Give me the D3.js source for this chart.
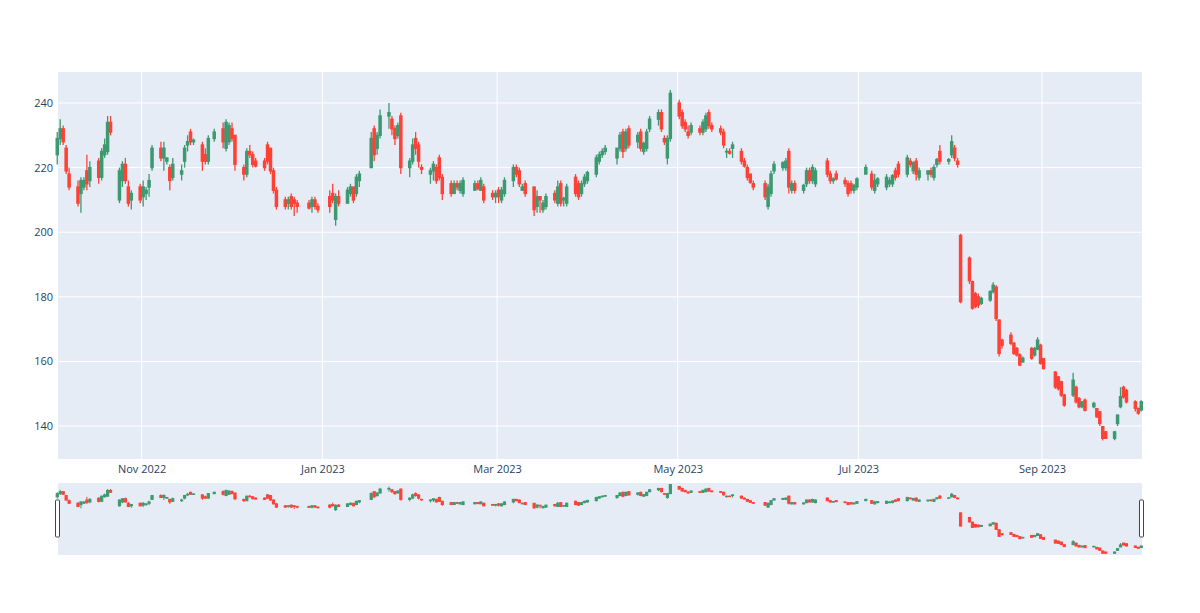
<!DOCTYPE html>
<html>
<head>
<meta charset="utf-8">
<script src="https://cdn.jsdelivr.net/npm/d3@7"></script>
<style>
  body { margin: 0; background: #fff; }
  text { font-family: "Open Sans", "DejaVu Sans", sans-serif; }
</style>
</head>
<body>
<svg id="chart" width="1200" height="613"></svg>
<script>
// rows are [open, high, low, close], one per trading day
var oct22 = [[224,231,221,229],[229,235,227,232],[232,233,227,228],[226,227,218,219],[218,220,213,214],
  [214,216,208,209],[212,217,206,216],[214,217,213,216],[219,224,213,215],[216,222,214,220],
  [222,223,215,217],[217,226,216,225],[224,229,223,227],[225,236,224,234],[234,236,230,231],
  [210,220,209,219],[216,222,214,221],[221,223,215,216],[214,216,208,209],[210,213,207,212]];
var nov22 = [[214,215,209,210],[211,216,208,214],[212,214,210,213],[214,218,211,216],[220,227,219,226],
  [226,228,222,223],[223,228,219,226],[222,223,221,223],[220,221,213,216],[217,223,216,221],
  [218,221,216,219],[222,227,220,226],[227,230,225,228],[231,232,227,228],[228,229,227,228.5],
  [227,228,219,222],[224,226,221,222],[222,230,221,229],[229,232,228,231],[232,234,226,228],[226,235,225,234]];
var dec22 = [[228,234,227,233],[232,234,228,229],[230,230,219,221],[220,221,216,218],[218,226,217,225],
  [225,227,223,224],[224,225,220,221],[222,223,220,220.5],[222,223,219,220],[227,228,221,222],
  [226,226,218,219],[219,220,212,213],[213,214,207,208],[210,211,207,208],[209,211,207,210],
  [211,212,207,208],[210,211,205,209],[209,210,206,208],[209,210,207,207.5],[208,211,206,210],
  [210,211,207,208],[208,209,206,207]];
var jan23 = [[211,213,206,208],[212,215,209,210],[204,212,202,211],[211,213,208,209],[209,214,209,213],
  [212,215,211,214],[214,214,209,210],[212,218,211,217],[216,219,214,218],[220,231,220,229],
  [232,233,222,224],[226,231,224,230],[230,238,229,236],[236,240,232,237],[235,236,230,232],
  [232,233,227,229],[230,234,229,233],[236,237,218,220],[220,223,217,222],[222,229,221,227]];
var feb23 = [[229,231,224,226],[227,228,220,222],[220,221,218,219.5],[218,220,215,219],[219,222,216,221],
  [220,221,215,216],[223,224,216,217],[217,218,210,212],[215,216,211,212],[212,216,212,215],
  [215,216,213,214],[213,216,212,215],[212,217,211,216],[213,216,213,215],[215,216,213,213.5],
  [213,217,213,216],[214,215,209,210],[212,213,210,211],[211,213,209,212]];
var mar23 = [[213,214,209,211],[210,214,209,213],[212,217,211,216],[216,221,214,220],[220,221,217,218],
  [219,220,214,215],[213,215,213,214],[215,216,211,212],[214,214,205,207],[208,213,206,211],
  [211,211,206,210],[207,210,206,209],[208,212,207,211],[212,213,209,210],[209,216,208,214],
  [215,216,208,209],[210,211,208,210.5],[209,215,208,214],[217,218,211,212],[215,216,210,211],
  [212,216,211,215],[215,218,214,217],[216,219,215,218.5]];
var apr23 = [[218,224,217,223],[222,225,221,224],[224,226,223,225],[225,227,224,226],[223,226,221,226],
  [226,231,225,230],[231,232,223,225],[226,232,225,231],[232,233,226,227],[228,231,226,230],
  [231,232,225,226],[225,228,224,227.5],[226,232,225,231],[232,236,231,235],[235,238,233,237],
  [237,238,231,232],[229,230,227,228],[223,230,221,229],[229,244,228,243]];
var may23 = [[240,241,235,236],[237,238,232,233],[234,235,231,232],[231,233,229,230],[231,234,230,233],
  [232,233,230,231],[231,235,230,234],[232,237,231,236],[237,238,232,233],[233,234,231,232],
  [232,233,230,231],[231,232,226,227],[225,226,223,225],[225,226,224,224.5],[226,228,223,227],
  [225,226,221,222],[222,223,220,220.5],[220,221,216,217],[218,218,215,215.5],[215,216,213,214],
  [215,216,210,211],[208,215,207,214]];
var jun23 = [[212,219,211,218],[219,222,218,221],[220,222,219,221.5],[220,223,219,222],[225,226,212,214],
  [213,216,212,215],[215,216,212,213],[213,215,212,214.5],[215,220,214,219],[219,220,215,216],
  [216,221,215,220],[215,220,214,219],[222,223,217,218],[218,219,215,216],[216,217,215,216.5],
  [218,219,216,216.5],[216,217,214,215],[215,216,211,212],[215,216,212,213],[213,215,212,214.5],
  [214,217,213,216.5]];
var jul23 = [[218,221,218,220],[218,219,213,214],[213,218,212,216],[215,217,214,216.5],[214,218,213,217],
  [215,217,214,216],[215,218,214,217.5],[219,220,216,217],[221,222,217,218],[218,224,217,223],
  [222,223,220,221],[219,222,218,221.5],[222,223,216,218],[217,220,216,219],[218,219,216,219],
  [219,220,217,218],[217,221,216,220],[221,223,220,222.5],[225,227,221,222],[222,223,221,222.5]];
var aug23 = [[224,230,223,228],[226,227,222,223],[222,223,220,221],[199,199.5,178,178.5],[192,192.5,184,185],
  [184.7,185,176,176.5],[181,181.5,176.5,177],[180,181,176.5,177.5],[178,180,177.5,179.5],[179,182,178.5,181.6],
  [181.6,184.5,181,183.6],[183,183.6,172.5,173.3],[172.8,173,161.5,162.5],[166.6,167,164,165],[168.1,169,165,165.6],
  [165.6,166,162,162.5],[164,164.5,161.5,162],[162,162.5,158.5,158.9],[159.9,161.5,159.5,161],[164,164.5,160.5,161],
  [162,164.5,161.5,164],[163.8,167.5,163.5,166.6],[165,165.5,159,159.4]];
var sep23 = [[160.9,161,157.5,157.8],[156.7,157,151.5,152.1],[155.2,155.5,151,151.6],[153.7,154,149,149.6],
  [149.6,150,146,146.5],[149.6,156.5,149,154.2],[152,152.5,147,147.5],[148.5,149,145.5,146],
  [146,147.5,145.5,147.5],[148,148.5,144.5,144.9],[146,147.5,145.5,147],[145.4,145.5,142.5,142.9],
  [144.4,144.5,140,140.8],[139.8,140,135.5,136.2],[138.2,138.5,136,136.2],[136.2,138.5,135.6,138.2],
  [140.8,143.5,140,143.4],[146,152,145.5,149.1],[152,152.5,148.5,149],[151,151.5,147,147.5]];
var oct23 = [[147.5,148,144.5,145.5],[145.5,145.5,143.5,144],[145,148,144.5,147.5]];

var yTicks = [140, 160, 180, 200, 220, 240];
var xTicks = ["2022-11-01", "2023-01-01", "2023-03-01", "2023-05-01", "2023-07-01", "2023-09-01"];
var xTickLabels = ["Nov 2022", "Jan 2023", "Mar 2023", "May 2023", "Jul 2023", "Sep 2023"];
var holidays = ["2022-11-24", "2022-12-26", "2023-01-02", "2023-01-16", "2023-02-20",
  "2023-04-07", "2023-05-29", "2023-06-19", "2023-07-04", "2023-09-04"];

var rows = [].concat(oct22, nov22, dec22, jan23, feb23, mar23, apr23, may23, jun23, jul23, aug23, sep23, oct23);

// trading days, aligned from the last day backwards
var fmt = d3.timeFormat("%Y-%m-%d");
var days = d3.timeDay.range(new Date(2022, 8, 1), new Date(2023, 9, 5))
  .filter(function(d) { return d.getDay() != 0 && d.getDay() != 6 && holidays.indexOf(fmt(d)) < 0; });
days = days.slice(days.length - rows.length);
var data = rows.map(function(r, i) {
  return { date: d3.timeHour.offset(days[i], 12), o: r[0], h: r[1], l: r[2], c: r[3] };
});

var svg = d3.select("#chart");
var left = 58, right = 1142;
var UP = "#3D9970", DOWN = "#FF4136";

var x = d3.scaleTime()
  .domain([new Date(2022, 9, 3, 18), new Date(2023, 9, 4, 18)])
  .range([left, right]);
var y = d3.scaleLinear().domain([129.8, 249.6]).range([459, 72]);
var ys = d3.scaleLinear().domain([133.5, 245.5]).range([555, 483]);

svg.append("rect").attr("x", left).attr("y", 72).attr("width", right - left).attr("height", 387)
  .attr("fill", "#E5ECF6");

var grid = svg.append("g");
grid.selectAll("line.gy").data(yTicks).enter().append("line")
  .attr("x1", left).attr("x2", right).attr("y1", function(d) { return y(d); }).attr("y2", function(d) { return y(d); })
  .attr("stroke", "#fff").attr("stroke-width", 1);
grid.selectAll("line.gx").data(xTicks).enter().append("line")
  .attr("y1", 72).attr("y2", 459)
  .attr("x1", function(d) { return x(d3.timeParse("%Y-%m-%d")(d)); })
  .attr("x2", function(d) { return x(d3.timeParse("%Y-%m-%d")(d)); })
  .attr("stroke", "#fff").attr("stroke-width", 1);

svg.append("g").attr("transform", "translate(" + (left - 5) + ",0)")
  .call(d3.axisLeft(y).tickValues(yTicks).tickSize(0).tickPadding(0))
  .call(function(g) { g.select(".domain").remove(); })
  .selectAll("text").attr("fill", "#2a3f5f").style("font-size", "11px");

svg.append("g").attr("transform", "translate(0,462)")
  .call(d3.axisBottom(x).tickValues(xTicks.map(d3.timeParse("%Y-%m-%d")))
    .tickFormat(function(d, i) { return xTickLabels[i]; }).tickSize(0).tickPadding(3))
  .call(function(g) { g.select(".domain").remove(); })
  .selectAll("text").attr("fill", "#2a3f5f").style("font-size", "11px");

var drawCandles = function(parent, yy, bw, lw) {
  var g = parent.append("g").selectAll("g").data(data).enter().append("g");
  g.append("line")
    .attr("x1", function(d) { return x(d.date); }).attr("x2", function(d) { return x(d.date); })
    .attr("y1", function(d) { return yy(d.h); }).attr("y2", function(d) { return yy(d.l); })
    .attr("stroke", function(d) { return d.c >= d.o ? UP : DOWN; }).attr("stroke-width", lw);
  g.append("rect")
    .attr("x", function(d) { return x(d.date) - bw / 2; }).attr("width", bw)
    .attr("y", function(d) { return yy(Math.max(d.o, d.c)); })
    .attr("height", function(d) { return Math.max(0.5, Math.abs(yy(d.o) - yy(d.c))); })
    .attr("fill", function(d) { return d.c >= d.o ? UP : DOWN; })
    .attr("stroke", function(d) { return d.c >= d.o ? UP : DOWN; }).attr("stroke-width", lw);
};

var plot = svg.append("g");
drawCandles(plot, y, 2.2, 1.3);

// range slider
svg.append("rect").attr("x", left).attr("y", 483).attr("width", right - left).attr("height", 72)
  .attr("fill", "#E5ECF6");
drawCandles(svg.append("g"), ys, 2.2, 1);
[left - 2, right - 2].forEach(function(hx) {
  svg.append("rect").attr("x", hx - 0.5).attr("y", 500).attr("width", 4).attr("height", 37)
    .attr("rx", 1).attr("fill", "#fff").attr("stroke", "#444").attr("stroke-width", 1);
});
</script>
</body>
</html>
